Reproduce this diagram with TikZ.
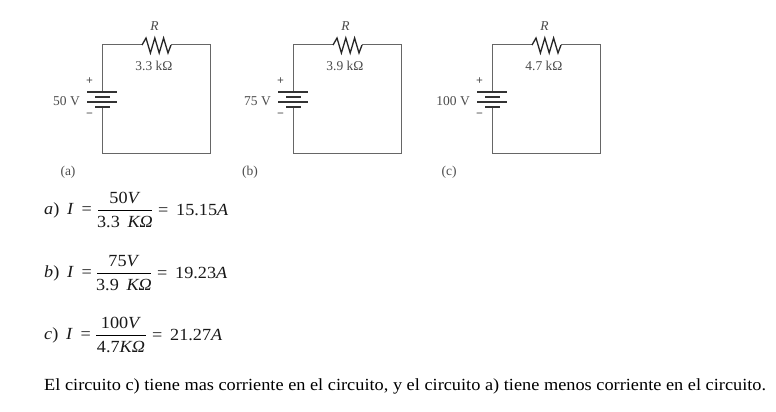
\documentclass[tikz,border=0pt]{standalone}
\usepackage{fontspec}
\setmainfont{Liberation Serif}
\newfontfamily\eqfont[FakeStretch=1.07,WordSpace=1.7]{Liberation Serif}
\newfontfamily\bodyfont[FakeStretch=1.077]{Liberation Serif}
\usetikzlibrary{calc}
\tikzset{
  wire/.style={draw=black!60,line width=1pt},
  cell/.style={draw=black!80,line cap=butt},
  lab/.style={inner sep=0pt,font=\fontsize{13.5}{15}\selectfont,text=black!70},
  eq/.style={inner sep=0pt,font=\fontsize{17}{20}\eqfont,text=black!90},
  rule/.style={draw=black,line width=0.7pt},
  body/.style={inner sep=0pt,anchor=west,font=\fontsize{17}{20}\bodyfont}
}
% #1 name, #2 left x, #3 volt label, #4 res label, #5 tag, #6 tag x
\newcommand{\mycirc}[6]{
  \coordinate (#1tl) at (#2,45);
  \coordinate (#1tr) at (#2+108,45);
  \coordinate (#1br) at (#2+108,153);
  \coordinate (#1bl) at (#2,153);
  \coordinate (#1rl) at (#2+40,45);
  \coordinate (#1rr) at (#2+69,45);
  \coordinate (#1bt) at (#2,92);
  \coordinate (#1bb) at (#2,107);
  \draw[wire] (#1bt) -- (#1tl) -- (#1rl);
  \draw[wire] (#1rr) -- (#1tr) -- (#1br) -- (#1bl) -- (#1bb);
  \draw[draw=black!85,line width=1.3pt,line join=miter] (#1rl) -- ++(4,-7) -- ++(4.4,15) -- ++(4.4,-15) -- ++(4.4,15) -- ++(4.4,-15) -- ++(4.4,15) -- (#1rr);
  \draw[cell,line width=1.7pt] (#2-15,92) -- (#2+15,92);
  \draw[cell,line width=2.6pt] (#2-7,97) -- (#2+8,97);
  \draw[cell,line width=1.7pt] (#2-15,102) -- (#2+15,102);
  \draw[cell,line width=2.6pt] (#2-7,107) -- (#2+8,107);
  \node[lab,font=\fontsize{13.5}{15}\selectfont\itshape] (#1R) at (#2+52.5,26) {R};
  \node[lab] (#1val) at (#2+52,66) {#4};
  \node[lab,font=\fontsize{12}{13}\selectfont\bfseries] (#1p) at (#2-12.5,81.5) {+};
  \node[lab,font=\fontsize{12}{13}\selectfont\bfseries] (#1m) at (#2-12.5,115.5) {−};
  \node[lab,anchor=east] (#1v) at (#2-22,101.5) {#3};
  \node[lab] (#1tag) at (#6,172) {#5};
}
% #1 name, #2 prefix, #3 prefix x, #4 num, #5 den, #6 line left, #7 line right, #8 y, #9 result
\newcommand{\myeq}[9]{
  \coordinate (#1a) at (#6,#8);
  \coordinate (#1b) at (#7,#8);
  \draw[rule] (#1a) -- (#1b);
  \node[eq,anchor=west] (#1pre) at (#3,#8) {#2};
  \node[eq,anchor=south] (#1num) at ($(#1a)!0.5!(#1b)+(0,-6)$) {#4};
  \node[eq,anchor=north] (#1den) at ($(#1a)!0.5!(#1b)+(0,6)$) {#5};
  \node[eq,anchor=west] (#1res) at ($(#1b)+(6,0)$) {#9};
}
\begin{document}
\begin{tikzpicture}[x=1pt,y=-1pt]
\useasboundingbox[fill=white] (0,0) rectangle (776,412);
\mycirc{A}{102}{50 V}{3.3 kΩ}{(a)}{68}
\mycirc{B}{293}{75 V}{3.9 kΩ}{(b)}{250}
\mycirc{C}{492}{100 V}{4.7 kΩ}{(c)}{449}
\myeq{e}{\textit{a}) \textit{I} =}{44}{50\textit{V}}{3.3 \textit{KΩ}}{98}{152}{210}{= 15.15\textit{A}}
\myeq{f}{\textit{b}) \textit{I} =}{44}{75\textit{V}}{3.9 \textit{KΩ}}{97}{151}{273}{= 19.23\textit{A}}
\myeq{g}{\textit{c}) \textit{I} =}{44}{100\textit{V}}{4.7\textit{KΩ}}{96}{146}{335}{= 21.27\textit{A}}
\node[body] (concl) at (44,386) {El circuito c) tiene mas corriente en el circuito, y el circuito a) tiene menos corriente en el circuito.};
\end{tikzpicture}
\end{document}
